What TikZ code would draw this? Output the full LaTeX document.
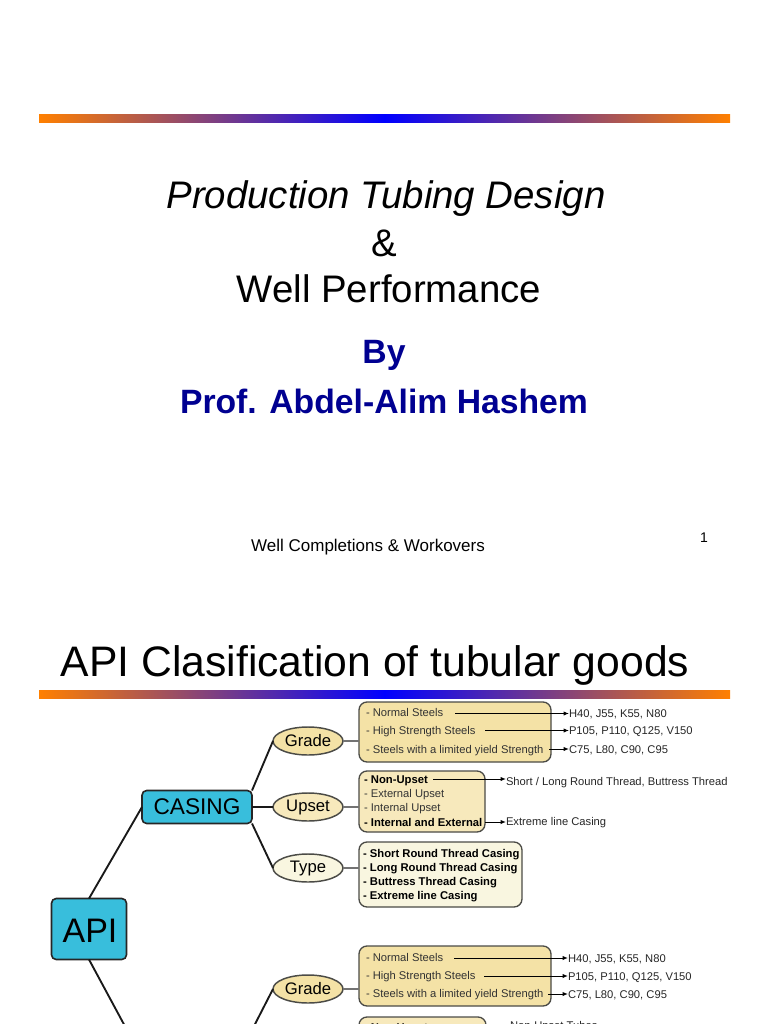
\documentclass[tikz,border=0pt]{standalone}
\usepackage{fontspec}
\setmainfont{Liberation Sans}
\usetikzlibrary{arrows.meta,shapes.geometric}
\definecolor{barorange}{RGB}{255,128,0}
\definecolor{barblue}{RGB}{0,0,255}
\definecolor{apiblue}{RGB}{56,190,220}
\definecolor{tan}{RGB}{244,226,166}
\definecolor{cream}{RGB}{249,246,224}
\definecolor{navy}{RGB}{0,0,145}
\definecolor{edge}{RGB}{75,75,70}
\tikzset{
  px/.style={inner sep=0pt,outer sep=0pt},
  bar/.style={px,minimum width=691*0.75pt,minimum height=8*0.75pt,left color=barorange,right color=barorange,middle color=barblue,anchor=north west,shading angle=90},
  slide/.style={px,font=\fontsize{28.8pt}{28.8pt}\selectfont},
  slideb/.style={px,font=\fontsize{25.3pt}{25.3pt}\selectfont\bfseries,text=navy},
  foot/.style={px,font=\fontsize{12.75pt}{12.75pt}\selectfont},
  lvlone/.style={px,draw=black!85,line width=1.2pt,fill=apiblue,rounded corners=3.5pt,align=center},
  oval/.style={ellipse,px,draw=edge,line width=1.1pt,minimum width=70*0.75pt,minimum height=28*0.75pt,font=\fontsize{12.5pt}{12.5pt}\selectfont},
  infobox/.style={px,draw=edge,line width=1pt,rounded corners=6pt,anchor=north west},
  item/.style={px,anchor=west,text height=6pt,text depth=0pt,font=\fontsize{8.4pt}{8.4pt}\selectfont,text=black!80},
  itemb/.style={item,font=\fontsize{8.45pt}{8.45pt}\selectfont\bfseries,text=black},
  res/.style={px,anchor=west,text height=6pt,text depth=0pt,font=\fontsize{8.4pt}{8.4pt}\selectfont,text=black!85},
  tree/.style={line width=1.4pt,black!90},
  stub/.style={line width=1.1pt,black!55},
  ptr/.style={line width=0.75pt,black,-{Latex[length=4pt,width=3.2pt]}}
}
\begin{document}
\begin{tikzpicture}[x=0.75pt,y=-0.75pt]
\useasboundingbox (0,0) rectangle (768,1024);
\clip (0,0) rectangle (768,1024);
% header bars
\node[bar] (bar1) at (39,114) {};
\node[bar] (bar2) at (39,690) {};
% title slide
\node[slide,font=\fontsize{28.8pt}{28.8pt}\selectfont\itshape] (t1) at (386,199) {Production Tubing Design};
\node[slide] (t2) at (384,243) {\&};
\node[slide] (t3) at (389,289) {Well Performance};
\node[slideb] (t4) at (384,355) {By};
\node[slideb] (t5) at (384,401) {Prof. Abdel-Alim Hashem};
\node[foot] (f1) at (368,547.5) {Well Completions \& Workovers};
\node[px,font=\fontsize{10.5pt}{10.5pt}\selectfont] (f2) at (704,538) {1};
% second slide title
\node[px,font=\fontsize{32pt}{32pt}\selectfont] (t6) at (375,665) {API Clasification of tubular goods};
% main tree
\node[lvlone,minimum width=75*0.75pt,minimum height=61*0.75pt] (api) at (89,929) {};
\node[px,font=\fontsize{25.5pt}{25.5pt}\selectfont] (apit) at (90,931) {API};
\node[lvlone,minimum width=110*0.75pt,minimum height=33*0.75pt,font=\fontsize{17pt}{17pt}\selectfont] (casing) at (197,807) {CASING};
\node[oval,fill=tan] (g1) at (308,741) {Grade};
\node[oval,fill=tan!75!white] (u1) at (308,807) {Upset};
\node[oval,fill=cream] (ty1) at (308,868) {Type};
\node[oval,fill=tan] (g2) at (308,989) {Grade};
\coordinate (tubing) at (127,1030);
\coordinate (tubingr) at (252,1030);
\draw[tree] (api.north) -- (casing.west);
\draw[tree] (api.south) -- (tubing);
\draw[tree] (casing.north east) -- (g1.west);
\draw[tree] (casing.east) -- (u1.west);
\draw[tree] (casing.south east) -- (ty1.west);
\draw[tree] (tubingr) -- (g2.west);
% boxes
\node[infobox,fill=tan,minimum width=192*0.75pt,minimum height=60*0.75pt] (b1) at (359,702) {};
\node[infobox,fill=tan!75!white,minimum width=126*0.75pt,minimum height=61*0.75pt] (b2) at (359,771) {};
\node[infobox,fill=cream,minimum width=163*0.75pt,minimum height=65*0.75pt] (b3) at (359,842) {};
\node[infobox,fill=tan,minimum width=192*0.75pt,minimum height=60*0.75pt] (b4) at (359,946) {};
\node[infobox,fill=tan!75!white,minimum width=127*0.75pt,minimum height=40*0.75pt] (b5) at (359,1017) {};
\draw[stub] (g1.east) -- (g1.east -| b1.west);
\draw[stub] (u1.east) -- (u1.east -| b2.west);
\draw[stub] (ty1.east) -- (ty1.east -| b3.west);
\draw[stub] (g2.east) -- (g2.east -| b4.west);
% box 1
\node[item] (a1) at (366,712.5) {- Normal Steels};
\node[item] (a2) at (366,730) {- High Strength Steels};
\node[item] (a3) at (366,749) {- Steels with a limited yield Strength};
\node[res] (r1) at (569,713.5) {H40, J55, K55, N80};
\node[res] (r2) at (569,730.5) {P105, P110, Q125, V150};
\node[res] (r3) at (569,749) {C75, L80, C90, C95};
\coordinate (s1) at (455,713.5);
\coordinate (s2) at (485,730.5);
\coordinate (s3) at (549,749);
\draw[ptr] (s1) -- (r1.west);
\draw[ptr] (s2) -- (r2.west);
\draw[ptr] (s3) -- (r3.west);
% box 2
\node[itemb] (c1) at (364,779) {- Non-Upset};
\node[item] (c2) at (364,793.5) {- External Upset};
\node[item] (c3) at (364,807.5) {- Internal Upset};
\node[itemb] (c4) at (364,822) {- Internal and External};
\node[res] (r4) at (506,781) {Short / Long Round Thread, Buttress Thread};
\node[res] (r5) at (506,821.5) {Extreme line Casing};
\coordinate (s4) at (433,779);
\coordinate (s5) at (485,822);
\draw[ptr] (s4) -- (s4 -| r4.west);
\draw[ptr] (s5) -- (s5 -| r5.west);
% box 3
\node[itemb] (d1) at (363,853) {- Short Round Thread Casing};
\node[itemb] (d2) at (363,867) {- Long Round Thread Casing};
\node[itemb] (d3) at (363,881.5) {- Buttress Thread Casing};
\node[itemb] (d4) at (363,895.5) {- Extreme line Casing};
% box 4
\node[item] (e1) at (366,957) {- Normal Steels};
\node[item] (e2) at (366,975) {- High Strength Steels};
\node[item] (e3) at (366,993.5) {- Steels with a limited yield Strength};
\node[res] (r6) at (568,958) {H40, J55, K55, N80};
\node[res] (r7) at (568,976) {P105, P110, Q125, V150};
\node[res] (r8) at (568,994) {C75, L80, C90, C95};
\coordinate (s6) at (454,958);
\coordinate (s7) at (484,976);
\coordinate (s8) at (548,994);
\draw[ptr] (s6) -- (r6.west);
\draw[ptr] (s7) -- (r7.west);
\draw[ptr] (s8) -- (r8.west);
% box 5 (cut by page edge)
\node[itemb] (h1) at (364,1027) {- Non-Upset};
\node[res] (r9) at (510,1025.5) {Non-Upset Tubes};
\end{tikzpicture}
\end{document}
